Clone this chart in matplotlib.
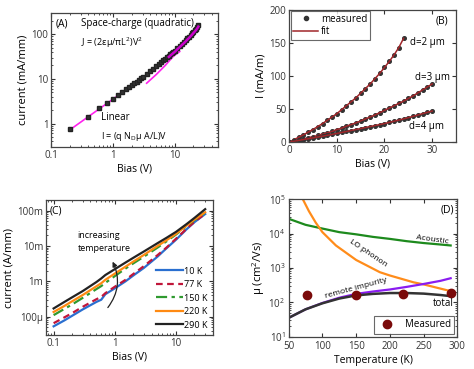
import matplotlib
matplotlib.use("Agg")
import matplotlib.pyplot as plt
from matplotlib.lines import Line2D

plt.rcParams['font.family'] = ['Open Sans', 'DejaVu Sans']
plt.rcParams['mathtext.fontset'] = 'custom'
plt.rcParams['mathtext.rm'] = 'Open Sans'
plt.rcParams['mathtext.it'] = 'Open Sans'
plt.rcParams['mathtext.default'] = 'regular'
plt.rcParams['font.size'] = 7
plt.rcParams['axes.linewidth'] = 0.9
plt.rcParams['axes.edgecolor'] = '#444444'

# ---- (A) log-log I-V, d = 2 um
V_A = [0.2, 0.4, 0.6, 0.8, 1.0, 1.2, 1.4, 1.6, 1.8, 2.0, 2.2, 2.4, 2.6, 2.8, 3.0,
       3.5, 4, 4.5, 5, 5.5, 6, 6.5, 7, 7.5, 8, 8.5, 9, 9.5, 10,
       11, 12, 13, 14, 15, 16, 17, 18, 19, 20, 21, 22, 23, 24]
I_A = [0.75, 1.4, 2.2, 2.9, 3.6, 4.3, 5.0, 5.8, 6.5, 7.2, 8.0, 8.7, 9.5, 10.2, 11,
       12.8, 14.8, 16.8, 19, 21, 23.5, 25.8, 28, 30.5, 33, 35.5, 38, 40.5, 43,
       49, 55, 61, 67, 74, 81, 88, 96, 104, 113, 122, 132, 143, 157]
V_lin = [0.2, 12]
I_lin = [0.72, 41]
V_sc = [3.5, 5, 7, 10, 14, 18, 24]
I_sc = [8, 12.5, 20, 35, 62, 95, 150]

# ---- (B) linear I-V for three spacings
V_B = list(range(0, 31))
I_d2 = [0, 3.6, 7.3, 11, 15, 19, 23.5, 28, 33, 38, 43, 49, 55, 61, 67, 74, 81, 88,
        96, 104, 113, 122, 132, 143, 157]
I_d3 = [0, 1.5, 3, 4.7, 6.5, 8.2, 10, 12, 14, 16, 19, 21, 24, 26.5, 29, 32, 35, 38,
        41, 44.5, 48, 51.5, 55, 58.5, 62, 66, 70, 74.5, 79, 83.5, 88]
I_d4 = [0, 1.2, 2.5, 3.8, 5, 6.3, 7.6, 8.9, 10.2, 11.6, 13, 14.5, 16, 17.5, 19, 20.5,
        22, 23.5, 25, 26.5, 28, 29.8, 31.5, 33.3, 35, 37, 39, 41, 43, 45, 47]

# ---- (C) temperature dependence
V_C = [0.1, 0.15, 0.2, 0.3, 0.5, 0.6, 0.7, 1, 1.5, 2, 3, 5, 7, 10, 15, 20, 30]
temps = ['10 K', '77 K', '150 K', '220 K', '290 K']
I_C = [
    [5.3e-5, 7.8e-5, 1.05e-4, 1.6e-4, 2.6e-4, 3.0e-4, 4.3e-4, 6.3e-4, 1.0e-3, 1.45e-3, 2.4e-3, 5.0e-3, 8.6e-3, 1.5e-2, 3.0e-2, 4.7e-2, 8.0e-2],
    [6.5e-5, 9.5e-5, 1.25e-4, 1.9e-4, 3.1e-4, 3.6e-4, 4.6e-4, 7.0e-4, 1.1e-3, 1.6e-3, 2.7e-3, 5.5e-3, 9.0e-3, 1.6e-2, 3.1e-2, 4.8e-2, 8.2e-2],
    [1.1e-4, 1.65e-4, 2.2e-4, 3.4e-4, 6.0e-4, 7.3e-4, 9.0e-4, 1.4e-3, 2.3e-3, 3.2e-3, 5.0e-3, 9.0e-3, 1.35e-2, 2.1e-2, 3.7e-2, 5.4e-2, 8.8e-2],
    [1.35e-4, 2.0e-4, 2.7e-4, 4.1e-4, 7.2e-4, 8.8e-4, 1.1e-3, 1.65e-3, 2.6e-3, 3.6e-3, 5.6e-3, 1.0e-2, 1.45e-2, 2.2e-2, 3.8e-2, 5.6e-2, 9.0e-2],
    [1.7e-4, 2.6e-4, 3.5e-4, 5.3e-4, 9.5e-4, 1.2e-3, 1.5e-3, 2.2e-3, 3.4e-3, 4.6e-3, 7.0e-3, 1.2e-2, 1.7e-2, 2.5e-2, 4.2e-2, 6.2e-2, 1.1e-1],
]
colors_C = ['#2a6fd0', '#c0163a', '#2f9a2f', '#ff8a12', '#222222']
styles_C = ['-', (0, (3, 2)), (0, (5, 2, 1.5, 2)), '-', '-']

# ---- (D) mobility vs temperature
T_ac = [50, 75, 100, 125, 150, 175, 200, 225, 250, 275, 290]
mu_ac = [2.7e4, 1.8e4, 1.4e4, 1.1e4, 9.5e3, 8.0e3, 7.0e3, 6.0e3, 5.3e3, 4.8e3, 4.5e3]
T_lo = [71, 80, 90, 100, 120, 150, 185, 200, 235, 250, 290]
mu_lo = [1e5, 4.5e4, 2.1e4, 1.1e4, 4.5e3, 1.7e3, 7.5e2, 6.0e2, 3.8e2, 3.3e2, 2.1e2]
T_ri = [50, 75, 100, 125, 150, 175, 200, 225, 250, 275, 290]
mu_ri = [35, 62, 95, 135, 175, 205, 235, 280, 340, 420, 500]
T_tot = [50, 75, 100, 125, 150, 175, 200, 225, 250, 275, 290]
mu_tot = [35, 62, 93, 128, 158, 175, 185, 185, 178, 162, 150]
T_meas = [77, 150, 220, 290]
mu_meas = [160, 158, 170, 190]

fig = plt.figure(figsize=(4.74, 3.69), dpi=100)


def style(ax):
    ax.tick_params(which='both', direction='in', top=True, right=True,
                   labelsize=7, pad=2, colors='#333333')
    ax.tick_params(which='major', length=3)
    ax.tick_params(which='minor', length=1.6)


# (A)
axA = fig.add_axes([0.108, 0.602, 0.352, 0.363])
axA.set_xscale('log')
axA.set_yscale('log')
axA.plot(V_lin, I_lin, color='#ff22ee', lw=1.2)
axA.plot(V_sc, I_sc, color='#ff22ee', lw=1.2)
axA.plot(V_A, I_A, 's', color='#333333', ms=2.6, mec='#222222')
axA.plot(V_A[-19:], [v * 0.94 for v in I_A[-19:]], color='#cc00cc', lw=1.8)
axA.set_xlim(0.1, 50)
axA.set_ylim(0.3, 300)
axA.set_xticks([0.1, 1, 10], ['0.1', '1', '10'])
axA.set_yticks([1, 10, 100], ['1', '10', '100'])
axA.set_xlabel('Bias (V)', fontsize=7.5, labelpad=2)
axA.set_ylabel('current (mA/mm)', fontsize=8, labelpad=2)
axA.text(0.025, 0.92, '(A)', transform=axA.transAxes, fontsize=7.5, va='center')
axA.text(0.18, 0.92, 'Space-charge (quadratic)', transform=axA.transAxes,
         fontsize=7, va='center')
axA.text(0.18, 0.78, r'J = (2εμ/πL$^2$)V$^2$', transform=axA.transAxes,
         fontsize=6.5, va='center')
axA.text(0.30, 0.22, 'Linear', transform=axA.transAxes, fontsize=7, va='center')
axA.text(0.30, 0.08, r'I = (q N$_D$μ A/L)V', transform=axA.transAxes,
         fontsize=6.5, va='center')
style(axA)

# (B)
axB = fig.add_axes([0.61, 0.615, 0.352, 0.358])
fit_c = '#a0262a'
for I_d in (I_d2, I_d3, I_d4):
    axB.plot(V_B[:len(I_d)], I_d, 'o', color='#333333', ms=2.6)
    axB.plot(V_B[:len(I_d)], I_d, color=fit_c, lw=1.1)
axB.set_xlim(0, 35)
axB.set_ylim(0, 200)
axB.set_xticks([0, 10, 20, 30])
axB.set_yticks([0, 50, 100, 150, 200])
axB.set_xlabel('Bias (V)', fontsize=7.5, labelpad=2)
axB.set_ylabel('I (mA/m)', fontsize=8, labelpad=2)
axB.text(0.88, 0.92, '(B)', transform=axB.transAxes, fontsize=7.5, va='center')
axB.text(25.4, 150, 'd=2 μm', fontsize=7, va='center')
axB.text(26.4, 98, 'd=3 μm', fontsize=7, va='center')
axB.text(25.2, 23, 'd=4 μm', fontsize=7, va='center')
hB = [Line2D([], [], ls='none', marker='o', color='#333333', ms=3),
      Line2D([], [], color=fit_c, lw=1.1)]
legB = axB.legend(hB, ['measured', 'fit'], loc='upper left', fontsize=7,
                  fancybox=False, edgecolor='#444444', borderaxespad=0.15,
                  handlelength=2.6, labelspacing=0.15, borderpad=0.25,
                  handletextpad=0.3)
legB.get_frame().set_linewidth(0.8)
style(axB)

# (C)
axC = fig.add_axes([0.097, 0.092, 0.352, 0.366])
axC.set_xscale('log')
axC.set_yscale('log')
for I_t, c, ls, lab in zip(I_C, colors_C, styles_C, temps):
    axC.plot(V_C, I_t, color=c, ls=ls, lw=1.6, label=lab)
axC.set_xlim(0.075, 40)
axC.set_ylim(3e-5, 0.2)
axC.set_xticks([0.1, 1, 10], ['0.1', '1', '10'])
axC.set_yticks([1e-4, 1e-3, 1e-2, 1e-1], ['100µ', '1m', '10m', '100m'])
axC.set_xlabel('Bias (V)', fontsize=7.5, labelpad=2)
axC.set_ylabel('current (A/mm)', fontsize=8, labelpad=2)
axC.text(0.02, 0.92, '(C)', transform=axC.transAxes, fontsize=7.5, va='center')
axC.text(0.19, 0.69, 'increasing\ntemperature', transform=axC.transAxes,
         fontsize=6.5, linespacing=1.6, va='center')
axC.annotate('', xy=(0.92, 3.6e-3), xytext=(0.77, 1.8e-4),
             arrowprops=dict(arrowstyle='-|>', color='#222222', lw=0.9,
                             connectionstyle='arc3,rad=0.3', mutation_scale=7,
                             shrinkA=0, shrinkB=0), zorder=5)
axC.legend(loc='lower right', frameon=False, fontsize=6.5, handlelength=3,
           labelspacing=0.5, borderaxespad=0.2, handletextpad=0.1)
style(axC)

# (D)
axD = fig.add_axes([0.609, 0.088, 0.356, 0.372])
axD.set_yscale('log')
axD.plot(T_ac, mu_ac, color='#1d8a1d', lw=1.6)
axD.plot(T_lo, mu_lo, color='#ff8c1a', lw=1.6)
axD.plot(T_ri, mu_ri, color='#8a1cf0', lw=1.6)
axD.plot(T_tot, mu_tot, color='#333333', lw=1.8)
axD.plot(T_meas, mu_meas, 'o', color='#7a0a0a', ms=6, label='Measured')
axD.set_xlim(50, 300)
axD.set_ylim(10, 1e5)
axD.set_xticks([50, 100, 150, 200, 250, 300])
axD.set_yticks([1e1, 1e2, 1e3, 1e4, 1e5],
               ['$10^{1}$', '$10^{2}$', '$10^{3}$', '$10^{4}$', '$10^{5}$'])
axD.set_xlabel('Temperature (K)', fontsize=7.5, labelpad=2)
axD.set_ylabel('μ (cm$^2$/Vs)', fontsize=8, labelpad=1)
axD.text(0.9, 0.92, '(D)', transform=axD.transAxes, fontsize=7.5, va='center')
axD.text(238, 6.9e3, 'Acoustic', fontsize=6, rotation=-8, rotation_mode='anchor')
axD.text(140, 5.6e3, 'LO phonon', fontsize=6, rotation=-34, rotation_mode='anchor')
axD.text(104, 1.35e2, 'remote impurity', fontsize=6, rotation=15,
         rotation_mode='anchor')
axD.text(264, 90, 'total', fontsize=7, va='center')
legD = axD.legend(loc='lower right', fontsize=7, fancybox=False,
                  edgecolor='#444444', borderaxespad=0.3, handletextpad=0.8,
                  borderpad=0.35)
legD.get_frame().set_linewidth(0.8)
style(axD)
axD.tick_params(axis='x', pad=3.5)
axD.tick_params(axis='y', pad=2.5)

fig.savefig('out.png', dpi=100)
